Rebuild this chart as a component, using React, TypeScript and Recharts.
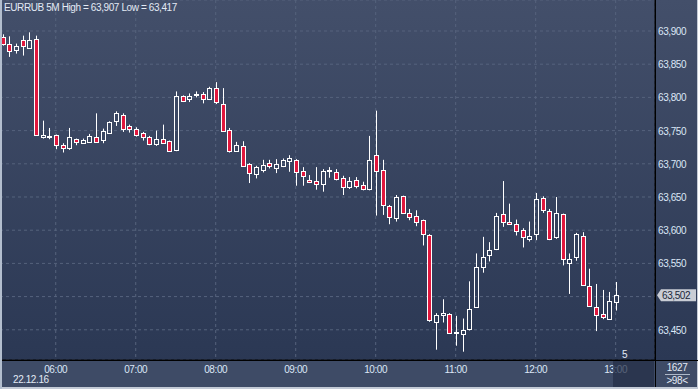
import { ComposedChart, Bar, XAxis, YAxis, CartesianGrid, ReferenceLine } from 'recharts';

// EURRUB 5M candles, 22.12.16
const times = [
  '05:20', '05:25', '05:30', '05:35', '05:40', '05:45', '05:50', '05:55',
  '06:00', '06:05', '06:10', '06:15', '06:20', '06:25', '06:30', '06:35', '06:40', '06:45', '06:50', '06:55',
  '07:00', '07:05', '07:10', '07:15', '07:20', '07:25', '07:30', '07:35', '07:40', '07:45', '07:50', '07:55',
  '08:00', '08:05', '08:10', '08:15', '08:20', '08:25', '08:30', '08:35', '08:40', '08:45', '08:50', '08:55',
  '09:00', '09:05', '09:10', '09:15', '09:20', '09:25', '09:30', '09:35', '09:40', '09:45', '09:50', '09:55',
  '10:00', '10:05', '10:10', '10:15', '10:20', '10:25', '10:30', '10:35', '10:40', '10:45', '10:50', '10:55',
  '11:00', '11:05', '11:10', '11:15', '11:20', '11:25', '11:30', '11:35', '11:40', '11:45', '11:50', '11:55',
  '12:00', '12:05', '12:10', '12:15', '12:20', '12:25', '12:30', '12:35', '12:40', '12:45', '12:50', '12:55',
  '13:00',
];

const opens = [
  63.891, 63.880, 63.871, 63.886, 63.875, 63.888, 63.740, 63.741,
  63.743, 63.728, 63.724, 63.737, 63.732, 63.733, 63.740, 63.736, 63.746, 63.764, 63.774, 63.757,
  63.752, 63.746, 63.740, 63.730, 63.737, 63.734, 63.721, 63.802, 63.797, 63.804, 63.805, 63.797,
  63.814, 63.790, 63.751, 63.720, 63.727, 63.699, 63.684, 63.691, 63.701, 63.694, 63.697, 63.704,
  63.706, 63.689, 63.676, 63.674, 63.669, 63.689, 63.687, 63.678, 63.665, 63.675, 63.668, 63.662,
  63.713, 63.691, 63.636, 63.619, 63.651, 63.626, 63.621, 63.615, 63.593, 63.462, 63.473, 63.474,
  63.446, 63.443, 63.451, 63.485, 63.545, 63.562, 63.571, 63.624, 63.613, 63.610, 63.600, 63.587,
  63.594, 63.648, 63.629, 63.590, 63.624, 63.551, 63.559, 63.591, 63.516, 63.485, 63.474, 63.467,
  63.492,
];

const highs = [
  63.895, 63.892, 63.881, 63.893, 63.898, 63.893, 63.765, 63.754,
  63.744, 63.731, 63.754, 63.738, 63.738, 63.745, 63.776, 63.753, 63.764, 63.779, 63.776, 63.759,
  63.755, 63.748, 63.742, 63.750, 63.759, 63.735, 63.809, 63.803, 63.806, 63.809, 63.808, 63.816,
  63.823, 63.814, 63.754, 63.733, 63.734, 63.701, 63.697, 63.706, 63.706, 63.707, 63.708, 63.713,
  63.707, 63.695, 63.683, 63.695, 63.692, 63.695, 63.692, 63.682, 63.680, 63.680, 63.673, 63.742,
  63.780, 63.706, 63.638, 63.653, 63.652, 63.632, 63.630, 63.616, 63.594, 63.475, 63.496, 63.475,
  63.471, 63.467, 63.523, 63.565, 63.590, 63.582, 63.626, 63.674, 63.640, 63.616, 63.603, 63.613,
  63.656, 63.651, 63.632, 63.650, 63.625, 63.565, 63.596, 63.597, 63.542, 63.519, 63.510, 63.507,
  63.522,
];

const lows = [
  63.878, 63.861, 63.866, 63.863, 63.874, 63.742, 63.738, 63.737,
  63.722, 63.717, 63.721, 63.728, 63.730, 63.732, 63.732, 63.731, 63.745, 63.757, 63.748, 63.747,
  63.741, 63.735, 63.728, 63.727, 63.730, 63.719, 63.719, 63.793, 63.793, 63.800, 63.791, 63.796,
  63.790, 63.748, 63.717, 63.718, 63.696, 63.671, 63.678, 63.687, 63.693, 63.686, 63.695, 63.688,
  63.667, 63.667, 63.671, 63.661, 63.658, 63.679, 63.675, 63.653, 63.662, 63.663, 63.660, 63.660,
  63.622, 63.623, 63.609, 63.613, 63.625, 63.615, 63.606, 63.577, 63.462, 63.420, 63.461, 63.444,
  63.426, 63.417, 63.449, 63.483, 63.536, 63.553, 63.570, 63.605, 63.609, 63.592, 63.574, 63.583,
  63.585, 63.626, 63.585, 63.587, 63.547, 63.504, 63.554, 63.516, 63.485, 63.448, 63.466, 63.466,
  63.479,
];

const closes = [
  63.881, 63.870, 63.877, 63.877, 63.887, 63.744, 63.744, 63.742,
  63.728, 63.724, 63.740, 63.733, 63.736, 63.742, 63.733, 63.750, 63.763, 63.776, 63.753, 63.752,
  63.744, 63.740, 63.730, 63.738, 63.732, 63.720, 63.802, 63.795, 63.802, 63.805, 63.798, 63.814,
  63.793, 63.750, 63.719, 63.728, 63.697, 63.686, 63.695, 63.698, 63.696, 63.699, 63.706, 63.708,
  63.688, 63.681, 63.672, 63.670, 63.689, 63.691, 63.677, 63.665, 63.674, 63.667, 63.662, 63.706,
  63.689, 63.638, 63.620, 63.650, 63.626, 63.620, 63.613, 63.594, 63.464, 63.473, 63.475, 63.445,
  63.445, 63.450, 63.482, 63.544, 63.560, 63.570, 63.622, 63.613, 63.610, 63.599, 63.589, 63.592,
  63.647, 63.630, 63.587, 63.626, 63.556, 63.557, 63.594, 63.517, 63.486, 63.472, 63.469, 63.494,
  63.502,
];

const hourTicks = [360, 420, 480, 540, 600, 660, 720, 780];
const priceTicks = [63.45, 63.5, 63.55, 63.6, 63.65, 63.7, 63.75, 63.8, 63.85, 63.9];
const lastPrice = 63.502;
const title = 'EURRUB 5M High = 63,907 Low = 63,417';
const dateLabel = '22.12.16';

const toMinutes = (s: string) => {
  const [h, m] = s.split(':').map(Number);
  return h * 60 + m;
};

const data = times.map((t, i) => ({
  t: toMinutes(t),
  open: opens[i],
  high: highs[i],
  low: lows[i],
  close: closes[i],
  range: [lows[i], highs[i]],
}));

const FONT = '"Liberation Sans", Arial, sans-serif';
const LABEL = '#dce7f6';

const fmtPrice = (v: number) => v.toFixed(3).replace('.', ',');
const fmtHour = (m: number) => String(Math.floor(m / 60)).padStart(2, '0') + ':00';

const Candle = (props: any) => {
  const { x, y, width, height, payload } = props;
  const top = Math.min(y, y + height);
  const h = Math.abs(height);
  const span = payload.high - payload.low || 1;
  const py = (v: number) => top + ((payload.high - v) / span) * h;
  const c = Math.round(x + width / 2);
  const up = payload.close >= payload.open;
  const bt = Math.round(py(Math.max(payload.open, payload.close))) + 0.5;
  const bb = Math.round(py(Math.min(payload.open, payload.close))) + 0.5;
  return (
    <g>
      <line x1={c + 0.5} x2={c + 0.5} y1={top} y2={bt} stroke="#ffffff" />
      <line x1={c + 0.5} x2={c + 0.5} y1={bb} y2={top + h} stroke="#ffffff" />
      <rect
        x={c - 1.5}
        y={bt}
        width={4}
        height={Math.max(bb - bt, 0)}
        fill={up ? 'none' : '#e0173d'}
        stroke="#ffffff"
        strokeWidth={1}
      />
    </g>
  );
};

const XTick = (props: any) => {
  const { x, y, payload } = props;
  return (
    <text x={x} y={y} dy={8} textAnchor="middle" fill={LABEL} fontSize={10} fontFamily={FONT} letterSpacing={-0.4}>
      {fmtHour(payload.value)}
    </text>
  );
};

const YTick = (props: any) => {
  const { x, y, payload } = props;
  if (Math.abs(payload.value - 63.5) < 1e-6) return <g />;
  return (
    <text x={x} y={y} dy={4} textAnchor="start" fill={LABEL} fontSize={10} fontFamily={FONT} letterSpacing={-0.4}>
      {fmtPrice(payload.value)}
    </text>
  );
};

const PriceBox = (props: any) => {
  const vb = props.viewBox || {};
  const left = vb.x + vb.width + 2;
  const cy = vb.y;
  return (
    <g>
      <polygon
        points={`${left},${cy} ${left + 4},${cy - 6} ${left + 39},${cy - 6} ${left + 39},${cy + 6} ${left + 4},${cy + 6}`}
        fill="#c9cdd5"
      />
      <text x={left + 5} y={cy} dy={4} fill="#1b2738" fontSize={10} fontFamily={FONT} letterSpacing={-0.4}>
        {fmtPrice(lastPrice)}
      </text>
    </g>
  );
};

const abs = (l: number, t: number, w: number, h: number) => ({
  position: 'absolute' as const,
  left: l,
  top: t,
  width: w,
  height: h,
});

const textStyle = {
  position: 'absolute' as const,
  color: '#e3eaf5',
  fontFamily: FONT,
  fontSize: 10,
  letterSpacing: -0.4,
  lineHeight: '12px',
  whiteSpace: 'nowrap' as const,
};

export default function App() {
  return (
    <div style={{ position: 'absolute', left: 0, top: 0, width: 698, height: 389, background: '#c3cad6', overflow: 'hidden' }}>
      <div style={{ ...abs(2, 0, 695, 360), background: 'linear-gradient(180deg, #434f6a 0%, #2b3854 100%)' }} />
      <div style={{ ...abs(2, 361, 695, 26), background: '#3e4b66' }} />
      <div style={{ position: 'absolute', left: 0, top: 0 }}>
        <ComposedChart width={698} height={389} data={data} margin={{ top: 0, right: 0, bottom: 0, left: 0 }}>
          <CartesianGrid stroke="#56637d" strokeDasharray="3 3" />
          <XAxis
            dataKey="t"
            type="number"
            domain={[318.2, 809.5]}
            allowDataOverflow
            ticks={hourTicks}
            height={29}
            axisLine={{ stroke: '#000000' }}
            tickLine={false}
            tickSize={0}
            tickMargin={5}
            tick={<XTick />}
          />
          <YAxis
            orientation="right"
            type="number"
            domain={[63.4045, 63.9467]}
            allowDataOverflow
            ticks={priceTicks}
            width={43}
            axisLine={{ stroke: '#000000' }}
            tickLine={false}
            tickSize={0}
            tickMargin={3}
            tick={<YTick />}
          />
          <Bar dataKey="range" barSize={5} shape={<Candle />} isAnimationActive={false} />
          <ReferenceLine y={lastPrice} stroke="none" label={<PriceBox />} />
        </ComposedChart>
      </div>
      <div style={{ ...abs(0, 0, 2, 389), background: '#b3bece' }} />
      <div style={{ ...abs(2, 360, 696, 1), background: '#000000' }} />
      <div style={{ ...abs(655, 0, 1, 387), background: '#000000' }} />
      <div style={{ ...abs(613, 361, 41, 26), background: 'rgba(36, 46, 70, 0.72)' }} />
      <div style={{ ...textStyle, left: 4, top: 2 }}>{title}</div>
      <div style={{ ...textStyle, left: 13, top: 374 }}>{dateLabel}</div>
      <div style={{ ...textStyle, left: 622, top: 349 }}>5</div>
      <div style={{ ...textStyle, left: 663, top: 362, width: 28, textAlign: 'center' }}>1627</div>
      <div style={{ ...abs(665, 374, 25, 1), background: '#aeb8c8' }} />
      <div style={{ ...textStyle, left: 663, top: 375, width: 28, textAlign: 'center' }}>{'>98<'}</div>
    </div>
  );
}
